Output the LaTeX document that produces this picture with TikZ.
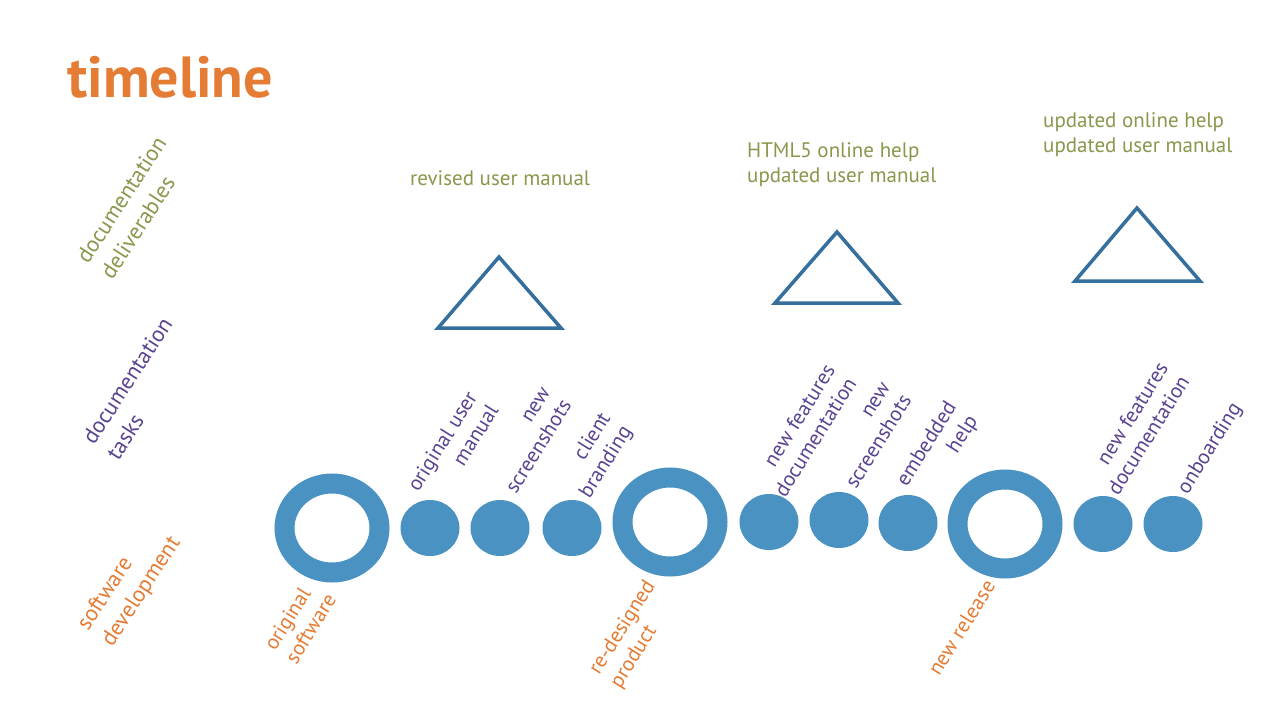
\documentclass[tikz,border=0pt]{standalone}
\usepackage{fontspec}
\setmainfont{PT Sans}
\usetikzlibrary{shapes.geometric}
\definecolor{orng}{RGB}{229,124,52}
\definecolor{olive}{RGB}{136,152,76}
\definecolor{purp}{RGB}{91,67,145}
\definecolor{dotblue}{RGB}{74,146,194}
\definecolor{triblue}{RGB}{52,111,158}
\newcommand{\rlines}[1]{\begin{tabular}[t]{@{}r@{}}#1\end{tabular}}
\newcommand{\llines}[1]{\begin{tabular}[t]{@{}l@{}}#1\end{tabular}}
\tikzset{
  lbl/.style={inner sep=0pt, font=\fontsize{21}{25}\selectfont},
  toplbl/.style={lbl, text=purp, rotate=58, anchor=base east},
  botlbl/.style={lbl, text=orng, rotate=58, anchor=base west},
  sidelbl/.style={inner sep=0pt, font=\fontsize{22.5}{29}\selectfont, rotate=57, anchor=base west},
  deliv/.style={lbl, text=olive, anchor=base west},
  ring/.style={ellipse, draw=dotblue, line width=20pt, minimum width=95pt, minimum height=89pt, inner sep=0pt},
  dot/.style={ellipse, fill=dotblue, minimum width=59pt, minimum height=56pt, inner sep=0pt},
  tri/.style={draw=triblue, line width=3.5pt, line join=miter}
}
\begin{document}
\begin{tikzpicture}[x=1pt,y=-1pt]
\useasboundingbox[fill=white] (0,0) rectangle (1280,720);

% title
\node[inner sep=0pt, anchor=base west, text=orng, font=\fontsize{58}{60}\selectfont\bfseries] (title) at (67,97) {timeline};

% row labels
\node[sidelbl, text=olive] (rowdeliv) at (88,265) {\llines{documentation\\deliverables}};
\node[sidelbl, text=purp] (rowtasks) at (94,446) {\llines{documentation\\tasks}};
\node[sidelbl, text=orng] (rowsoft) at (88,632) {\llines{software\\development}};

% timeline circles
\node[ring] (r1) at (332,528) {};
\node[dot] (d1) at (430,528) {};
\node[dot] (d2) at (500,528) {};
\node[dot] (d3) at (572,528) {};
\node[ring] (r2) at (670,522) {};
\node[dot] (d4) at (769,522) {};
\node[dot] (d5) at (839,520) {};
\node[dot] (d6) at (908,523) {};
\node[ring] (r3) at (1005,524) {};
\node[dot] (d7) at (1103,524) {};
\node[dot] (d8) at (1173,524) {};

% task labels
\node[toplbl] (t1) at (478,397) {\rlines{original user\\manual}};
\node[toplbl] (t2) at (551,392) {\rlines{new\\screenshots}};
\node[toplbl] (t3) at (611,418) {\rlines{client\\branding}};
\node[toplbl] (t4) at (836,370) {\rlines{new features\\documentation}};
\node[toplbl] (t5) at (891,387) {\rlines{new\\screenshots}};
\node[toplbl] (t6) at (957,407) {\rlines{embedded\\help}};
\node[toplbl] (t7) at (1169,368) {\rlines{new features\\documentation}};
\node[toplbl] (t8) at (1242,408) {\rlines{onboarding}};

% software labels
\node[botlbl] (s1) at (275,652) {\llines{original\\software}};
\node[botlbl] (s2) at (599,676) {\llines{re-designed\\product}};
\node[botlbl] (s3) at (939,677) {\llines{new release}};

% deliverables
\draw[tri] (438,328) -- (499,257) -- (561,328) -- cycle;
\draw[tri] (775,303) -- (837,232) -- (898,303) -- cycle;
\draw[tri] (1075,281) -- (1137,208) -- (1200,281) -- cycle;
\node[deliv] (v1) at (410,185) {\llines{revised user manual}};
\node[deliv] (v2) at (747,157) {\llines{HTML5 online help\\updated user manual}};
\node[deliv] (v3) at (1043,127) {\llines{updated online help\\updated user manual}};
\end{tikzpicture}
\end{document}
